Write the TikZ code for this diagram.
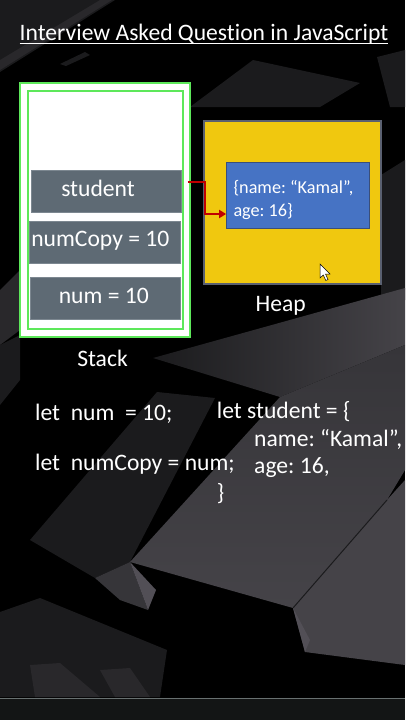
\documentclass[tikz,border=0pt]{standalone}
\usepackage{fontspec}
\setmainfont{Carlito}[Ligatures={NoCommon}]
\usetikzlibrary{calc,arrows.meta}
\definecolor{bgA}{HTML}{1B1B1D}
\definecolor{bgB}{HTML}{29282B}
\definecolor{bgC}{HTML}{363539}
\definecolor{bgD}{HTML}{454348}
\definecolor{bgE}{HTML}{524F56}
\definecolor{stackgreen}{HTML}{5DE85A}
\definecolor{slot}{HTML}{5E6A74}
\definecolor{slotedge}{HTML}{7C8790}
\definecolor{heapyellow}{HTML}{F0C80F}
\definecolor{heapedge}{HTML}{5A6070}
\definecolor{objblue}{HTML}{4673C4}
\definecolor{objedge}{HTML}{3A4F7A}
\definecolor{arrowred}{HTML}{C00000}
\definecolor{barcol}{HTML}{131515}
\definecolor{barline}{HTML}{687070}
\frenchspacing
\tikzset{
  big/.style={font=\fontsize{23.6}{27}\selectfont, text=white, inner sep=0pt},
  small/.style={font=\fontsize{18.2}{21}\selectfont, text=white, inner sep=0pt},
  slotbox/.style={rectangle, fill=slot, draw=slotedge, line width=0.6pt, inner sep=0pt, outer sep=0pt},
  stackouter/.style={rectangle, fill=white, draw=stackgreen, line width=2.4pt, inner sep=0pt},
  stackinner/.style={rectangle, draw=stackgreen, line width=2pt, inner sep=0pt},
  heapbox/.style={rectangle, fill=heapyellow, draw=heapedge, line width=1.2pt, inner sep=0pt},
  objbox/.style={rectangle, fill=objblue, draw=objedge, line width=1pt, inner sep=0pt},
  refarrow/.style={draw=arrowred, line width=2.3pt, -{Triangle[length=7pt,width=8pt]}}
}
\begin{document}
\begin{tikzpicture}[x=1pt,y=-1pt]
\useasboundingbox (0,0) rectangle (405,720);
% background
\fill[black] (0,0) rectangle (405,698);
\fill[bgA] (0,0) -- (115,0) -- (0,72) -- cycle;
\fill[bgB] (0,60) -- (100,0) -- (112,0) -- (0,70) -- cycle;
\fill[bgA] (60,64) -- (85,52) -- (90,55) -- (66,66) -- cycle;
\fill[bgA] (190,107) -- (253,60) -- (360,83) -- (320,107) -- cycle;
\fill[bgA] (377,57) -- (405,50) -- (405,107) -- (390,107) -- cycle;
\fill[bgA] (381,175) -- (405,160) -- (405,300) -- (381,300) -- cycle;
\fill[bgB] (0,290) -- (20,270) -- (20,330) -- (0,345) -- cycle;
\fill[bgA] (0,345) -- (20,335) -- (20,380) -- (0,405) -- cycle;
% upper slab face right of the stack
\shade[left color=bgA, right color=bgD] (153,358) -- (405,288) -- (405,345) -- (280,397) -- cycle;
% dark slab at left
\fill[bgA] (30,540) -- (157,392) -- (215,398) -- (130,562) -- (95,578) -- cycle;
\fill[bgC] (95,578) -- (130,562) -- (148,610) -- (120,600) -- cycle;
% big lighter slab faces
\shade[top color=bgC, bottom color=bgD] (280,397) -- (405,345) -- (405,470) -- (387,500) -- (293,608) -- (130,562) -- cycle;
\fill[bgD] (293,608) -- (387,500) -- (405,480) -- (405,665) -- (305,652) -- cycle;
\fill[bgE] (130,562) -- (148,610) -- (156,590) -- cycle;
\fill[bgE] (293,608) -- (305,652) -- (310,640) -- cycle;
\draw[bgA, line width=1pt] (293,608) -- (387,500);
% lower left
\fill[bgA] (0,612) -- (40,598) -- (167,650) -- (160,697) -- (0,697) -- cycle;
\fill[bgB] (30,665) -- (60,663) -- (100,697) -- (35,697) -- cycle;
\fill[bgB] (100,670) -- (130,668) -- (150,697) -- (115,697) -- cycle;
% bottom bar
\fill[barcol] (0,698) rectangle (405,720);
\draw[barline, line width=1.2pt] (0,698.3) -- (405,698.3);

% title
\node[big, anchor=base] (title) at (204,40) {Interview Asked Question in JavaScript};
\draw[white, line width=1.4pt] ($(title.base west)+(0,3.6)$) -- ($(title.base east)+(0,3.6)$);

% stack
\node[stackouter, minimum width=170pt, minimum height=254pt] (stack) at (105,210) {};
\node[stackinner, minimum width=155pt, minimum height=238pt] (stackin) at (105.5,210) {};
\node[slotbox, minimum width=150pt, minimum height=42.3pt] (student) at (106.7,191.2) {};
\node[slotbox, minimum width=150.7pt, minimum height=41.6pt] (numcopy) at (104.7,242.5) {};
\node[slotbox, minimum width=150.7pt, minimum height=42pt] (num) at (105.3,298.3) {};
\node[big, anchor=base] (studentlbl) at (98,196.7) {student};
\node[big, anchor=base] (numcopylbl) at (100.3,246.7) {numCopy = 10};
\node[big, anchor=base] (numlbl) at (103.8,303) {num = 10};
\node[big, anchor=base] (stacklbl) at (102.5,366.7) {Stack};

% heap
\node[heapbox, minimum width=177pt, minimum height=163pt] (heap) at (292.5,202.5) {};
\node[objbox, minimum width=143.3pt, minimum height=66.4pt] (obj) at (298.3,195.5) {};
\node[small, anchor=base west] (objl1) at (233.3,193) {\{name: “Kamal”,};
\node[small, anchor=base west] (objl2) at (233.3,216) {age: 16\}};
\node[big, anchor=base] (heaplbl) at (280.8,311.7) {Heap};

% reference arrow
\draw[refarrow] ($(student.east)+(6,-9.5)$) -| ($(obj.west)+(-21.5,18.5)$) -- ($(obj.west)+(0,18.5)$);

% mouse cursor
\filldraw[fill=white, draw=black, line width=0.5pt] (320,264) -- (320,278) -- (323.3,275) -- (325.8,280.5) -- (328,279.5) -- (325.6,274.2) -- (330,274) -- cycle;

% code
\node[big, anchor=base west] (c1) at (35,420) {let\ \ num\ \ = 10;};
\node[big, anchor=base west] (c2) at (35,470) {let\ \ numCopy = num;};
\node[big, anchor=base west] (c3) at (216.7,418) {let student = \{};
\node[big, anchor=base west] (c4) at (254,446.7) {name: “Kamal”,};
\node[big, anchor=base west] (c5) at (254,473.3) {age: 16,};
\node[big, anchor=base west] (c6) at (216.7,500) {\}};
\end{tikzpicture}
\end{document}
